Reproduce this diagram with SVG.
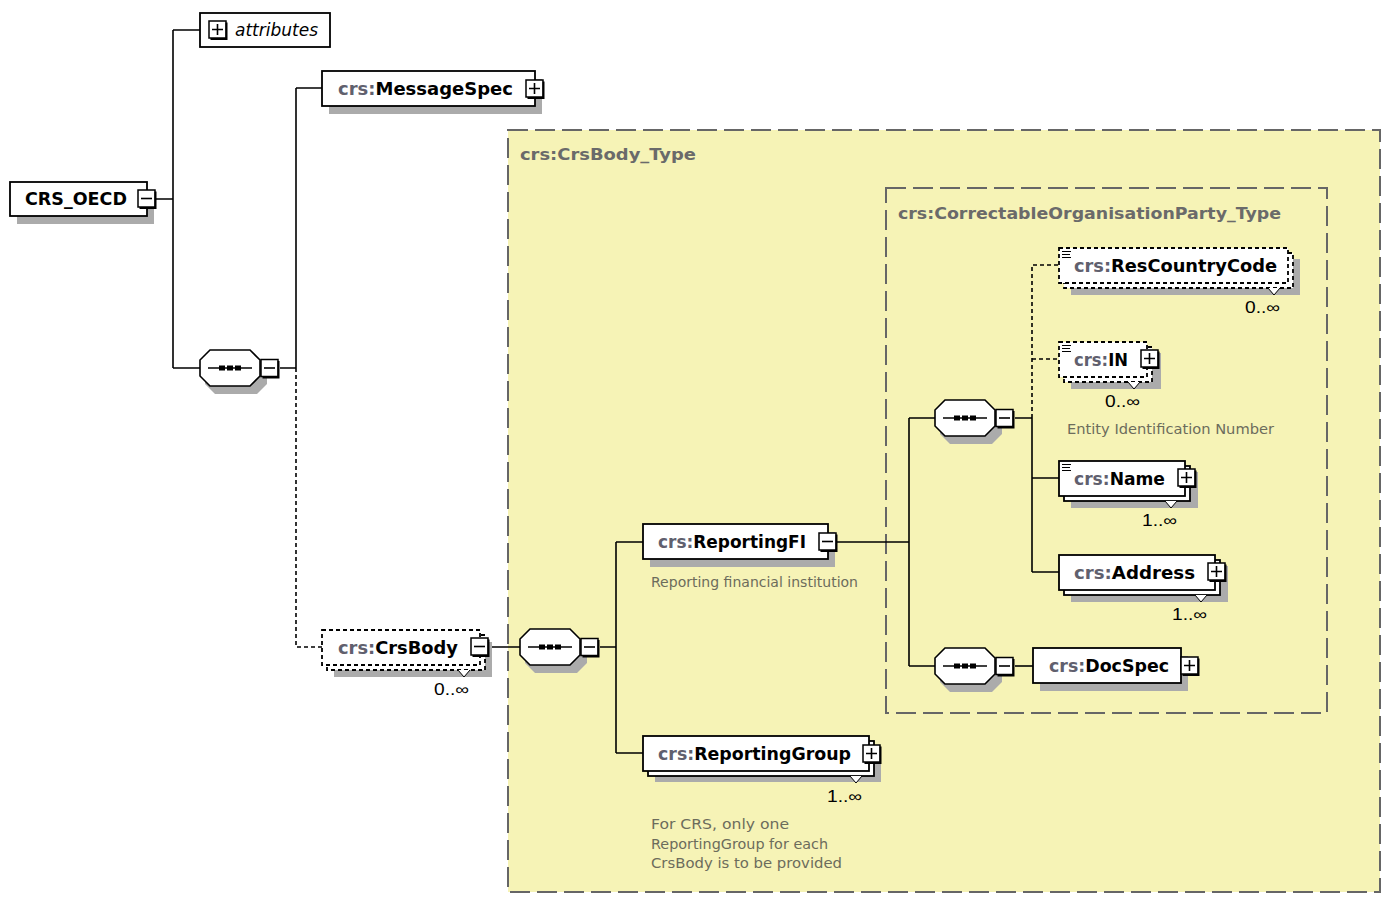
<svg xmlns="http://www.w3.org/2000/svg" xmlns:xlink="http://www.w3.org/1999/xlink" width="1390" height="903" viewBox="0 0 1390 903">
<style>
.box{fill:#fff;stroke:#000;stroke-width:1.8}
.opt{stroke-dasharray:4 3}
.sh{fill:#ababab}
.ln{fill:none;stroke:#000;stroke-width:1.6}
.dl{stroke-dasharray:4 3}
.lbl{font-family:"DejaVu Sans",Verdana,sans-serif;font-weight:bold;font-size:17px;fill:#000}
.ns{fill:#60606e}
.desc{font-family:"DejaVu Sans",sans-serif;font-size:14px;fill:#6c6c5c}
.mult{font-family:"Liberation Sans",Arial,sans-serif;font-size:16px;fill:#000}
.ctype{font-family:"DejaVu Sans",sans-serif;font-weight:bold;font-size:16px;fill:#6a6a6a}
.area{stroke:#666;stroke-width:2;stroke-dasharray:20 7}
.ico{stroke:#000;stroke-width:1.2}
</style>
<defs>
<g id="btnPlus"><rect x="0" y="0" width="17" height="17" fill="#fff" stroke="#000" stroke-width="1.5"/><path d="M17.5 1.5V18H1.5" fill="none" stroke="#000" stroke-width="2"/><path d="M3 8.5H14M8.5 3V14" stroke="#000" stroke-width="1.6"/></g>
<g id="btnMinus"><rect x="0" y="0" width="17" height="17" fill="#fff" stroke="#000" stroke-width="1.5"/><path d="M17.5 1.5V18H1.5" fill="none" stroke="#000" stroke-width="2"/><path d="M3 8.5H14" stroke="#000" stroke-width="1.6"/></g>
<g id="seq">
<path d="M16 8H58L68 18V34L58 44H16L6 34V18Z" fill="#ababab"/>
<path d="M11 0H51L61 10V26L51 36H11L1 26V10Z" fill="#fff" stroke="#000" stroke-width="1.6"/>
<path d="M9 18H53" stroke="#000" stroke-width="1.5"/>
<rect x="20" y="15.5" width="6" height="5"/><rect x="28" y="15.5" width="6" height="5"/><rect x="36" y="15.5" width="6" height="5"/>
<use xlink:href="#btnMinus" x="62" y="9.5"/>
</g>
<g id="ico"><path d="M0 0.5H9M0 3.5H8M0 6.5H9" class="ico"/></g>
</defs>

<!-- complex type areas -->
<g id="area-crsbody-type">
<rect x="508" y="130" width="872" height="762" fill="#f6f3b6" class="area"/>
<text x="520" y="160" class="ctype" textLength="176" lengthAdjust="spacingAndGlyphs">crs:CrsBody_Type</text>
</g>
<g id="area-correctable">
<rect x="886" y="188" width="441" height="525" fill="none" class="area"/>
<text x="898" y="219" class="ctype" textLength="383" lengthAdjust="spacingAndGlyphs">crs:CorrectableOrganisationParty_Type</text>
</g>

<!-- connectors -->
<g id="connectors">
<path class="ln" d="M155 199H173M173 30V368M173 30H200M173 368H200"/>
<path class="ln" d="M280 368H296M296 88V368M296 88H322"/>
<path class="ln dl" d="M296 368V647H322"/>
<path class="ln" d="M489 647H520M600 647H616M616 542V753M616 542H643M616 753H643"/>
<path class="ln" d="M837 542H909M909 418V666M909 418H935M909 666H935"/>
<path class="ln" d="M1015 418H1032M1032 418V572M1032 478H1059M1032 572H1059"/>
<path class="ln dl" d="M1032 418V265H1059M1032 359H1059"/>
<path class="ln" d="M1015 666H1033"/>
</g>

<!-- nodes -->
<g id="node-crs-oecd">
<rect x="17" y="190" width="137" height="34" class="sh"/>
<rect x="10" y="182" width="137" height="34" class="box"/>
<text x="25" y="205" class="lbl" textLength="102" lengthAdjust="spacingAndGlyphs">CRS_OECD</text>
<use xlink:href="#btnMinus" x="138" y="190"/>
</g>

<g id="node-attributes">
<rect x="200" y="13" width="130" height="34" class="box"/>
<use xlink:href="#btnPlus" x="209" y="21"/>
<text x="235" y="36" font-family="DejaVu Sans, sans-serif" font-style="italic" font-size="17" textLength="83" lengthAdjust="spacingAndGlyphs">attributes</text>
</g>

<g id="node-seq1"><use xlink:href="#seq" x="199" y="350"/></g>

<g id="node-messagespec">
<rect x="329" y="79" width="213" height="35" class="sh"/>
<rect x="322" y="71" width="213" height="35" class="box"/>
<text x="338" y="95" class="lbl" textLength="175" lengthAdjust="spacingAndGlyphs"><tspan class="ns">crs:</tspan>MessageSpec</text>
<use xlink:href="#btnPlus" x="526" y="80"/>
</g>

<g id="node-crsbody">
<rect x="334" y="642" width="158" height="35" class="sh"/>
<rect x="327" y="635" width="158" height="35" class="box opt"/>
<rect x="322" y="630" width="158" height="35" class="box opt"/>
<path d="M458 670L464 677L470 670" fill="#fff" stroke="#000" stroke-width="1"/>
<text x="338" y="654" class="lbl" textLength="120" lengthAdjust="spacingAndGlyphs"><tspan class="ns">crs:</tspan>CrsBody</text>
<use xlink:href="#btnMinus" x="471" y="638"/>
<text x="434" y="695" class="mult" textLength="35" lengthAdjust="spacingAndGlyphs">0..∞</text>
</g>

<g id="node-seq2"><use xlink:href="#seq" x="519" y="629"/></g>

<g id="node-reportingfi">
<rect x="650" y="532" width="185" height="35" class="sh"/>
<rect x="643" y="524" width="185" height="35" class="box"/>
<text x="658" y="548" class="lbl" textLength="148" lengthAdjust="spacingAndGlyphs"><tspan class="ns">crs:</tspan>ReportingFI</text>
<use xlink:href="#btnMinus" x="819" y="533"/>
<text x="651" y="587" class="desc" textLength="207" lengthAdjust="spacingAndGlyphs">Reporting financial institution</text>
</g>

<g id="node-reportinggroup">
<rect x="655" y="747" width="226" height="35" class="sh"/>
<rect x="648" y="741" width="226" height="35" class="box"/>
<rect x="643" y="736" width="226" height="35" class="box"/>
<path d="M850 776L856 783L862 776" fill="#fff" stroke="#000" stroke-width="1"/>
<text x="658" y="760" class="lbl" textLength="193" lengthAdjust="spacingAndGlyphs"><tspan class="ns">crs:</tspan>ReportingGroup</text>
<use xlink:href="#btnPlus" x="863" y="745"/>
<text x="827" y="802" class="mult" textLength="35" lengthAdjust="spacingAndGlyphs">1..∞</text>
<text x="651" y="829" class="desc" textLength="138" lengthAdjust="spacingAndGlyphs">For CRS, only one</text>
<text x="651" y="849" class="desc" textLength="177" lengthAdjust="spacingAndGlyphs">ReportingGroup for each</text>
<text x="651" y="868" class="desc" textLength="191" lengthAdjust="spacingAndGlyphs">CrsBody is to be provided</text>
</g>

<g id="node-seq3"><use xlink:href="#seq" x="934" y="400"/></g>
<g id="node-seq4"><use xlink:href="#seq" x="934" y="648"/></g>

<g id="node-rescountrycode">
<rect x="1071" y="259" width="229" height="36" class="sh"/>
<rect x="1064" y="253" width="229" height="35" class="box opt"/>
<rect x="1059" y="248" width="229" height="35" class="box opt"/>
<path d="M1268 288L1274 295L1280 288" fill="#fff" stroke="#000" stroke-width="1"/>
<use xlink:href="#ico" x="1062" y="251"/>
<text x="1074" y="272" class="lbl" textLength="203" lengthAdjust="spacingAndGlyphs"><tspan class="ns">crs:</tspan>ResCountryCode</text>
<text x="1245" y="313" class="mult" textLength="35" lengthAdjust="spacingAndGlyphs">0..∞</text>
</g>

<g id="node-in">
<rect x="1071" y="353" width="90" height="36" class="sh"/>
<rect x="1064" y="347" width="88" height="35" class="box opt"/>
<rect x="1059" y="342" width="88" height="35" class="box opt"/>
<path d="M1128 382L1134 389L1140 382" fill="#fff" stroke="#000" stroke-width="1"/>
<use xlink:href="#ico" x="1062" y="345"/>
<text x="1074" y="366" class="lbl" textLength="54" lengthAdjust="spacingAndGlyphs"><tspan class="ns">crs:</tspan>IN</text>
<use xlink:href="#btnPlus" x="1141" y="350"/>
<text x="1105" y="407" class="mult" textLength="35" lengthAdjust="spacingAndGlyphs">0..∞</text>
<text x="1067" y="434" class="desc" textLength="207" lengthAdjust="spacingAndGlyphs">Entity Identification Number</text>
</g>

<g id="node-name">
<rect x="1071" y="472" width="127" height="36" class="sh"/>
<rect x="1064" y="466" width="126" height="35" class="box"/>
<rect x="1059" y="461" width="126" height="35" class="box"/>
<path d="M1165 501L1171 508L1177 501" fill="#fff" stroke="#000" stroke-width="1"/>
<use xlink:href="#ico" x="1062" y="464"/>
<text x="1074" y="485" class="lbl" textLength="91" lengthAdjust="spacingAndGlyphs"><tspan class="ns">crs:</tspan>Name</text>
<use xlink:href="#btnPlus" x="1178" y="469"/>
<text x="1142" y="526" class="mult" textLength="35" lengthAdjust="spacingAndGlyphs">1..∞</text>
</g>

<g id="node-address">
<rect x="1071" y="566" width="157" height="36" class="sh"/>
<rect x="1064" y="560" width="156" height="35" class="box"/>
<rect x="1059" y="555" width="156" height="35" class="box"/>
<path d="M1195 595L1201 602L1207 595" fill="#fff" stroke="#000" stroke-width="1"/>
<text x="1074" y="579" class="lbl" textLength="121" lengthAdjust="spacingAndGlyphs"><tspan class="ns">crs:</tspan>Address</text>
<use xlink:href="#btnPlus" x="1208" y="563"/>
<text x="1172" y="620" class="mult" textLength="35" lengthAdjust="spacingAndGlyphs">1..∞</text>
</g>

<g id="node-docspec">
<rect x="1040" y="656" width="148" height="35" class="sh"/>
<rect x="1033" y="648" width="148" height="35" class="box"/>
<text x="1049" y="672" class="lbl" textLength="120" lengthAdjust="spacingAndGlyphs"><tspan class="ns">crs:</tspan>DocSpec</text>
<use xlink:href="#btnPlus" x="1181" y="657"/>
</g>
</svg>
